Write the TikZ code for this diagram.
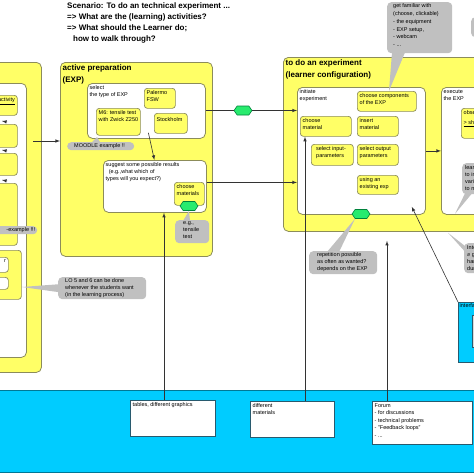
\documentclass[tikz,border=0pt]{standalone}
\usepackage{fontspec}
\setmainfont{Liberation Sans}
\usetikzlibrary{positioning,arrows,calc,shapes.symbols}
\definecolor{ylw}{RGB}{255,255,102}
\definecolor{brd}{RGB}{140,140,90}
\definecolor{callgray}{RGB}{192,192,192}
\definecolor{hexgreen}{RGB}{40,235,110}
\definecolor{hexbrd}{RGB}{0,130,60}
\definecolor{skyband}{RGB}{0,204,255}
\definecolor{bandbrd}{RGB}{0,120,150}
\definecolor{notebrd}{RGB}{40,90,110}
\begin{document}
\begin{tikzpicture}[x=1pt,y=-1pt,
	arr/.style={->,>=latex,line width=0.6pt,draw=black!80},
	dims/.style 2 args={minimum width=#1pt,minimum height=#2pt},
	frame/.style={draw=brd,fill=ylw,line width=0.8pt,rounded corners=5pt,anchor=north west,inner sep=0pt},
	pane/.style={draw=brd,fill=white,line width=0.8pt,rounded corners=5pt,anchor=north west,inner sep=0pt},
	ybox/.style={draw=brd,fill=ylw,line width=0.7pt,rounded corners=3pt,anchor=north west,inner sep=0pt},
	callout/.style={fill=callgray,rounded corners=4pt,anchor=north west,inner sep=0pt},
	note/.style={draw=notebrd,fill=white,line width=0.6pt,anchor=north west,inner sep=0pt},
	hexa/.style={signal,signal to=east and west,signal pointer angle=110,draw=hexbrd,fill=hexgreen,line width=0.6pt,minimum width=18pt,minimum height=9pt,inner sep=0pt},
	itemtext/.style={anchor=north west,align=left,inner sep=2.5pt,font=\fontsize{5.5}{7}\selectfont},
	boxtitle/.style={anchor=north west,align=left,inner sep=2.5pt,font=\bfseries\fontsize{8}{12}\selectfont},
	inscr/.style={label={[itemtext]north west:{#1}}}]
\useasboundingbox (0,0) rectangle (474,474);
\clip (0,0) rectangle (474,474);

% scenario
\node[anchor=north west,align=left,inner sep=0pt,font=\bfseries\fontsize{8}{11}\selectfont] (scenario) at (67,3)
	{Scenario: To do an technical experiment ...\\=> What are the (learning) activities?\\=> What should the Learner do;\\\hspace{6pt}how to walk through?};

% left column, cut by the edge
\node[frame,dims={61}{310}] (left) at (-20,62) {};
\node[pane,dims={46}{274}] (leftin) at (-20,83) {};
\node[ybox,dims={37}{20},label={[itemtext,anchor=north east]north east:{\underline{activity}}}] (act1) at (-20,95) {};
\node[ybox,dims={37}{23}] (act2) at (-20,124) {};
\node[ybox,dims={37}{22}] (act3) at (-20,153) {};
\node[ybox,dims={37}{62}] (act4) at (-20,183) {};
\node[ybox,dims={41}{49}] (act5) at (-20,250) {};
\node[ybox,fill=white,dims={28}{15},label={[itemtext,anchor=north east]north east:r}] (lo1) at (-20,257) {};
\node[ybox,fill=white,dims={28}{12}] (lo2) at (-20,277) {};
\draw[arr] ($(act2.north west)+(27,-2)$) -- ++(-5,-1);
\draw[arr] ($(act3.north west)+(27,-2)$) -- ++(-5,-1);
\draw[arr] ($(act4.north west)+(27,-2)$) -- ++(-5,-1);
\node[callout,dims={57}{8},label={[itemtext,anchor=east,inner sep=2pt]east:-example !!!}] (exnote) at (-20,226) {};

% active preparation
\node[frame,dims={152}{194},label={[boxtitle]north west:{active preparation\\(EXP)}}] (prep) at (60,62) {};
\node[pane,dims={118}{55},inscr={select\\the type of EXP}] (select) at (87,83) {};
\node[ybox,dims={31}{20},inscr={Palermo\\FSW}] (palermo) at (144,88) {};
\node[ybox,dims={44}{27},inscr={M6: tensile test\\with Zwick Z250}] (m6) at (96,108) {};
\node[ybox,dims={33}{20},label={[itemtext,inner ysep=4pt]north west:Stockholm}] (stockholm) at (154,113) {};
\node[pane,dims={103}{52},inscr={suggest some possible results\\\ \ (e.g.,what which of\\types will you expect?)}] (suggest) at (103,160) {};
\node[ybox,dims={30}{23},inscr={choose\\materials}] (choosemat) at (174,182) {};
\node[hexa] (hexa1) at (189,206) {};

% to do an experiment
\node[frame,dims={220}{174},label={[boxtitle]north west:{to do an experiment\\(learner configuration)}}] (expbox) at (283,57) {};
\node[pane,dims={128}{127},inscr={initiate\\experiment}] (initiate) at (297,87) {};
\node[ybox,dims={59}{20},inscr={choose components\\of the EXP}] (components) at (357,91) {};
\node[ybox,dims={51}{20},inscr={choose\\material}] (choosematerial) at (300,116) {};
\node[ybox,dims={41}{20},inscr={insert\\material}] (insert) at (357,116) {};
\node[ybox,dims={42}{21},label={[itemtext,inner xsep=5pt]north west:{select input-\\parameters}}] (input) at (311,144) {};
\node[ybox,dims={41}{21},inscr={select output\\parameters}] (output) at (357,144) {};
\node[ybox,dims={41}{19},inscr={using an\\existing exp}] (existing) at (357,175) {};
\node[hexa] (hexa2) at (361,214) {};
\node[pane,dims={60}{127},inscr={execute\\the EXP}] (execute) at (441,87) {};
\node[ybox,dims={40}{30},inscr={observe\\[3pt]\underline{> show}}] (observe) at (461,108) {};
\node[hexa] (hexa0) at (243,110.5) {};

% tools band
\node[draw=bandbrd,fill=skyband,line width=0.8pt,anchor=north west,inner sep=0pt,dims={484}{82}] (band) at (-5,390) {};
\node[note,dims={85}{36},inscr={tables, different graphics}] (tables) at (130,400) {};
\node[note,dims={84}{36},inscr={different\\materials}] (materials) at (250,401) {};
\node[note,dims={100}{43},label={[itemtext,font=\fontsize{5.5}{7.4}\selectfont]north west:{Forum\\- for discussions\\- technical problems\\- "Feedback loops"\\- ...}}] (forum) at (372,401) {};
\node[draw=notebrd,fill=skyband,line width=0.6pt,anchor=north west,inner sep=0pt,dims={40}{60},label={[itemtext,inner sep=1.5pt]north west:interface}] (interface) at (458,302) {};
\node[draw=notebrd,fill=black!15,line width=0.6pt,anchor=north west,inner sep=0pt,dims={20}{32}] (ifin) at (472,315) {};

% connectors
\coordinate (leftout) at (33,141);
\draw[arr] (leftout) -- (leftout -| prep.west);
\draw[line width=0.6pt,draw=black!80] (select.east |- hexa0) -- (hexa0.west);
\draw[arr] (hexa0.east) -- (hexa0 -| initiate.west);
\draw[arr] ($(select.south)+(2,-6)$) -- ($(suggest.north)+(-0.5,0)$);
\draw[arr] ($(suggest.east)+(0,-4)$) -- ($(suggest.east -| initiate.west)+(0,-4)$);
\draw[arr] (initiate.east) -- (execute.west);
\draw[arr] ($(tables.north west)+(34,0)$) -- ($(suggest.south west)+(61,0)$);
\draw[arr] ($(materials.north west)+(55,0)$) -- ($(choosematerial.south west)+(5,0)$);
\draw[arr,shorten >=9pt] ($(forum.north west)+(15,0)$) -- ($(expbox.south west)+(104,0)$);
\draw[arr] (interface.north west) -- ($(initiate.south east)+(-14,-8)$);

% callouts
\node[callout,dims={67}{8},label={[itemtext,anchor=west,inner xsep=7pt,inner ysep=0pt]west:MOODLE example !!}] (moodle) at (67,142) {};
\fill[callgray] ($(moodle.north west)+(25,0)$) -- (97,137) -- ($(moodle.north west)+(33,0)$) -- cycle;
\node[callout,dims={34}{23},label={[itemtext,inner xsep=8pt,inner ysep=1.5pt]north west:{e.g.,\\tensile\\test}}] (eg) at (175,220) {};
\fill[callgray] ($(eg.north west)+(8,1)$) -- (hexa1.south) -- ($(eg.north west)+(15,1)$) -- cycle;
\node[callout,dims={88}{22},label={[itemtext,inner xsep=7pt,inner ysep=1.5pt]north west:{LO 5 and 6 can be done\\whenever the students want\\(in the learning process)}}] (lo) at (58,277) {};
\coordinate (lotip) at (22,287);
\fill[callgray] ($(lo.west)+(1,-4)$) -- (lotip) -- ($(lo.west)+(1,4)$) -- cycle;
\node[callout,dims={68}{23},label={[itemtext,inner xsep=8pt,inner ysep=1.5pt]north west:{repetition possible\\as often as wanted?\\depends on the EXP}}] (repetition) at (309,251) {};
\fill[callgray] ($(repetition.north west)+(18,1)$) -- (hexa2.south west) -- ($(repetition.north west)+(30,1)$) -- cycle;
\node[callout,dims={65}{51},label={[itemtext,inner xsep=6pt,inner ysep=1.5pt,font=\fontsize{5.5}{7.8}\selectfont]north west:{get familiar with\\(choose, clickable)\\- the equipment\\- EXP setup,\\- webcam\\- ...}}] (getfam) at (387,2) {};
\fill[callgray] ($(getfam.south west)+(5,-1)$) -- ($(components.north west)+(32,0)$) -- ($(getfam.south west)+(18,-1)$) -- cycle;
\node[callout,dims={40}{31},label={[itemtext,inner xsep=3pt]north west:{learn\\to in\\vari\\to m}}] (learn) at (462,163) {};
\fill[callgray] ($(learn.south west)+(3,-1)$) -- ($(execute.south west)+(14,-1)$) -- ($(learn.south west)+(10,-1)$) -- cycle;
\node[callout,dims={30}{30},label={[itemtext,inner xsep=3pt]north west:{Inte\\e g\\han\\dur}}] (inter) at (464,243) {};
\fill[callgray] ($(inter.north west)+(1,3)$) -- ($(expbox.south west)+(165,1)$) -- ($(inter.north west)+(4,12)$) -- cycle;
\node[callout,dims={20}{20}] (topnote) at (471,17) {};
\end{tikzpicture}
\end{document}
